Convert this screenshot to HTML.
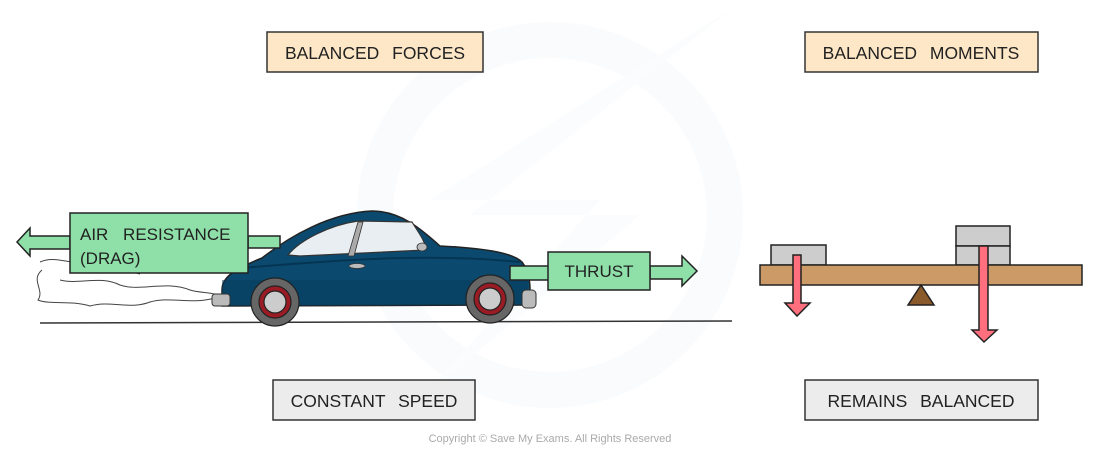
<!DOCTYPE html>
<html><head><meta charset="utf-8"><style>
html,body{margin:0;padding:0;background:#fff;width:1100px;height:465px;overflow:hidden}
svg{display:block}
text{font-family:"Liberation Sans",sans-serif;fill:#222}
</style></head><body>
<svg width="1100" height="465" viewBox="0 0 1100 465" xmlns="http://www.w3.org/2000/svg">
<!-- watermark -->
<circle cx="550" cy="215" r="175" fill="none" stroke="#f9fbfd" stroke-width="36"/>
<path d="M730 10 L430 200 L600 200 L420 400 L640 215 L470 215 Z" fill="#fafcfd"/>

<!-- labels -->
<rect x="267" y="32" width="216" height="40" fill="#fde7c6" stroke="#333" stroke-width="1.5"/>
<text x="375" y="59" font-size="17.5" text-anchor="middle" word-spacing="8">BALANCED FORCES</text>
<rect x="805" y="32" width="233" height="40" fill="#fde7c6" stroke="#333" stroke-width="1.5"/>
<text x="921" y="59" font-size="17.5" text-anchor="middle" word-spacing="8">BALANCED MOMENTS</text>
<rect x="273" y="380" width="202" height="40" fill="#ececec" stroke="#333" stroke-width="1.5"/>
<text x="374" y="407" font-size="17.5" text-anchor="middle" word-spacing="8">CONSTANT SPEED</text>
<rect x="805" y="380" width="233" height="40" fill="#ececec" stroke="#333" stroke-width="1.5"/>
<text x="921" y="407" font-size="17.5" text-anchor="middle" word-spacing="8">REMAINS BALANCED</text>

<!-- ground -->
<line x1="40" y1="323" x2="732" y2="321" stroke="#333" stroke-width="1.5"/>

<!-- smoke -->
<path d="M40 262 C55 255 70 265 85 262 M42 270 C30 280 45 290 38 300 C50 305 70 300 90 306 C110 300 130 310 150 302 C170 296 190 305 215 298 M60 280 C80 285 100 275 120 285 C140 292 165 280 190 290 C200 293 210 292 218 295 M95 268 C110 275 120 268 140 274" fill="none" stroke="#444" stroke-width="1"/>

<!-- car body -->
<path d="M222 290 C222 278 232 270 262 258 C290 236 330 213 372 211 C400 211 420 228 440 246 C480 248 512 252 522 262 C530 272 532 290 528 305 L222 306 Z" fill="#0b4a6e" stroke="#222" stroke-width="1.5"/>
<path d="M240 268 C320 262 420 252 520 262" fill="none" stroke="#053552" stroke-width="2"/>
<path d="M222 280 L528 280 L528 305 L222 306 Z" fill="#053a5a" opacity="0.5"/>
<!-- window -->
<path d="M288 255 C300 240 330 225 358 221 L412 222 C418 232 425 240 426 250 L300 256 Z" fill="#e9eef2" stroke="#333" stroke-width="1.2"/>
<path d="M358 222 L348 256 L354 256 L363 222 Z" fill="#aaa" stroke="#333" stroke-width="0.8"/>
<ellipse cx="357" cy="266" rx="8" ry="2.5" fill="#bbb" stroke="#333" stroke-width="0.8"/>
<ellipse cx="422" cy="247" rx="5" ry="4" fill="#bbb" stroke="#333" stroke-width="0.8"/>
<!-- bumpers -->
<rect x="212" y="294" width="18" height="12" rx="3" fill="#bbb" stroke="#333"/>
<rect x="522" y="290" width="14" height="18" rx="4" fill="#bbb" stroke="#333"/>
<!-- wheels -->
<g stroke="#222" stroke-width="1.2">
<circle cx="275" cy="302" r="24" fill="#666"/><circle cx="275" cy="302" r="16" fill="#9b1b25"/><circle cx="275" cy="302" r="11" fill="#ccc"/>
<circle cx="490" cy="299" r="24" fill="#666"/><circle cx="490" cy="299" r="16" fill="#9b1b25"/><circle cx="490" cy="299" r="11" fill="#ccc"/>
</g>

<!-- drag arrow -->
<g fill="#8ee0a8" stroke="#222" stroke-width="1.5">
<path d="M70 236 L30 236 L30 228 L17 242 L30 256 L30 249 L70 249 Z"/>
<rect x="248" y="236" width="32" height="12"/>
<rect x="70" y="213" width="178" height="60"/>
</g>
<text x="80" y="240" font-size="17" word-spacing="10">AIR RESISTANCE</text>
<text x="80" y="264" font-size="17">(DRAG)</text>

<!-- thrust arrow -->
<g fill="#8ee0a8" stroke="#222" stroke-width="1.5">
<rect x="510" y="266" width="40" height="14"/>
<path d="M650 266 L682 266 L682 256 L697 271 L682 286 L682 279 L650 279 Z"/>
<rect x="548" y="252" width="102" height="38"/>
</g>
<text x="599" y="277" font-size="17" text-anchor="middle">THRUST</text>

<!-- seesaw -->
<g stroke="#222" stroke-width="1.5">
<rect x="771" y="245" width="55" height="20" fill="#cdcdcd"/>
<rect x="956" y="226" width="54" height="20" fill="#cdcdcd"/>
<rect x="956" y="246" width="54" height="19" fill="#cdcdcd"/>
<rect x="760" y="265" width="322" height="20" fill="#cb9a66"/>
<path d="M908 305 L921 285 L934 305 Z" fill="#8b5a2b"/>
<path d="M793 255 L801 255 L801 303 L810 303 L797 316 L785 303 L793 303 Z" fill="#ff6f7e"/>
<path d="M979 246 L988 246 L988 330 L997 330 L984 342 L972 330 L979 330 Z" fill="#ff6f7e"/>
</g>

<text x="550" y="442" font-size="11" text-anchor="middle" style="fill:#aaa">Copyright © Save My Exams. All Rights Reserved</text>
</svg>
</body></html>
